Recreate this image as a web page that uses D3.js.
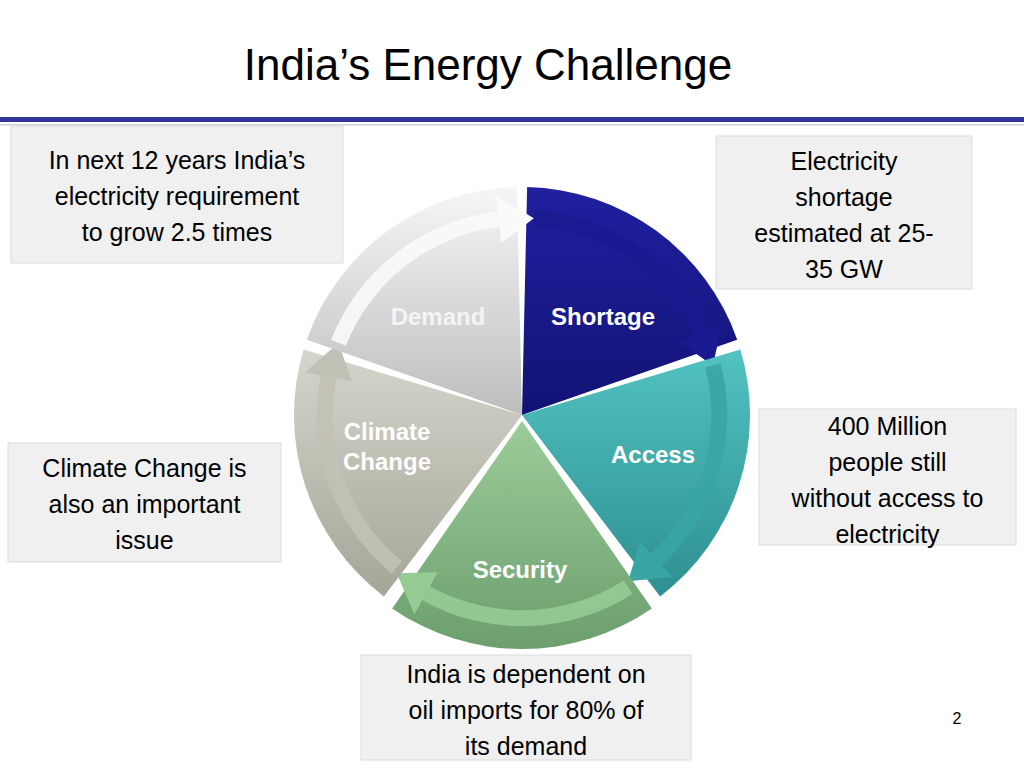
<!DOCTYPE html><html><head><meta charset="utf-8"><script src="https://cdn.jsdelivr.net/npm/d3@7"></script>
<style>body{margin:0;background:#fff}svg{display:block}</style></head><body><svg width="1024" height="768"></svg>
<script>
const categories=["Shortage","Access","Security","Climate Change","Demand"];
const values=[1,1,1,1,1];
const topColors=["#2020a0","#52c2c2","#9ccc9a","#d6d5cc","#f6f6f6"];
const botColors=["#121275","#2e8f90","#6c9e6e","#a5a598","#bdbdbd"];
const arrowColors=["#1a1a90","#3aa5a5","#95cc94","#c2c1b6","#fafafa"];
const labelPos=[[603,317],[653,455],[520,570],[387,440],[438,317]];
const notes=[
 {x:11,y:126,w:332,h:137,lines:["In next 12 years India’s","electricity requirement","to grow 2.5 times"],y0:160},
 {x:716,y:136,w:256,h:153,lines:["Electricity","shortage","estimated at 25-","35 GW"],y0:161},
 {x:759,y:409,w:257,h:136,lines:["400 Million","people still","without access to","electricity"],y0:426},
 {x:8,y:443,w:273,h:119,lines:["Climate Change is","also an important","issue"],y0:468},
 {x:361,y:655,w:330,h:105,lines:["India is dependent on","oil imports for 80% of","its demand"],y0:674}];
const svg=d3.select("svg");
svg.append("text").attr("x",488).attr("y",80).attr("text-anchor","middle").attr("font-family","Liberation Sans, Arial").attr("font-size",44).attr("fill","#000").text("India’s Energy Challenge");
svg.append("rect").attr("x",0).attr("y",117).attr("width",1024).attr("height",5).attr("fill","#333399");
svg.append("rect").attr("x",0).attr("y",124).attr("width",1024).attr("height",1.5).attr("fill","#d0d0dc");
const defs=svg.append("defs");
categories.forEach((c,i)=>{const g=defs.append("linearGradient").attr("id","g"+i).attr("x1",0).attr("y1",0).attr("x2",0).attr("y2",1);
 g.append("stop").attr("offset",0).attr("stop-color",topColors[i]);g.append("stop").attr("offset",1).attr("stop-color",botColors[i]);});
const cx=522,cy=415,R=228;
const pie=d3.pie().sort(null).padAngle(0.045)(values);
const arc=d3.arc().innerRadius(0).outerRadius(R);
const G=svg.append("g").attr("transform",`translate(${cx},${cy})`);
pie.forEach((p,i)=>{
 const off=i==2?6:0,mid=(p.startAngle+p.endAngle)/2;
 const g=G.append("g").attr("transform",`translate(${off*Math.sin(mid)},${-off*Math.cos(mid)})`);
 g.append("path").attr("d",arc(p)).attr("fill",`url(#g${i})`);
 const a0=p.startAngle+0.06,a1=p.endAngle-0.12;
 g.append("path").attr("d",d3.arc().innerRadius(R*0.83).outerRadius(R*0.9)({startAngle:a0,endAngle:a1})).attr("fill",arrowColors[i]).attr("opacity",0.9);
 const pt=(r,a)=>[r*Math.sin(a),-r*Math.cos(a)];
 const tip=pt(R*0.865,p.endAngle+0.06);
 g.append("path").attr("d",d3.line()([pt(R*0.76,a1),pt(R*0.97,a1),tip])+"Z").attr("fill",arrowColors[i]);
});
categories.forEach((c,i)=>{
 const t=svg.append("text").attr("text-anchor","middle").attr("font-family","Liberation Sans, Arial").attr("font-weight","bold").attr("font-size",24).attr("fill",i==4?"#f4f4f4":"#fff");
 const parts=c.split(" ");
 if(i==3){parts.forEach((s,k)=>t.append("tspan").attr("x",labelPos[i][0]).attr("y",labelPos[i][1]+k*30).text(s));}
 else t.attr("x",labelPos[i][0]).attr("y",labelPos[i][1]+8).text(c);
});
notes.forEach(n=>{
 svg.append("rect").attr("x",n.x).attr("y",n.y).attr("width",n.w).attr("height",n.h).attr("fill","#f0f0f0").attr("stroke","#dcdcdc");
 n.lines.forEach((l,k)=>svg.append("text").attr("x",n.x+n.w/2).attr("y",n.y0+k*36+9).attr("text-anchor","middle").attr("font-family","Liberation Sans, Arial").attr("font-size",25).attr("fill","#000").text(l));
});
svg.append("text").attr("x",957).attr("y",724).attr("text-anchor","middle").attr("font-family","Liberation Sans, Arial").attr("font-size",16).text("2");
</script></body></html>
